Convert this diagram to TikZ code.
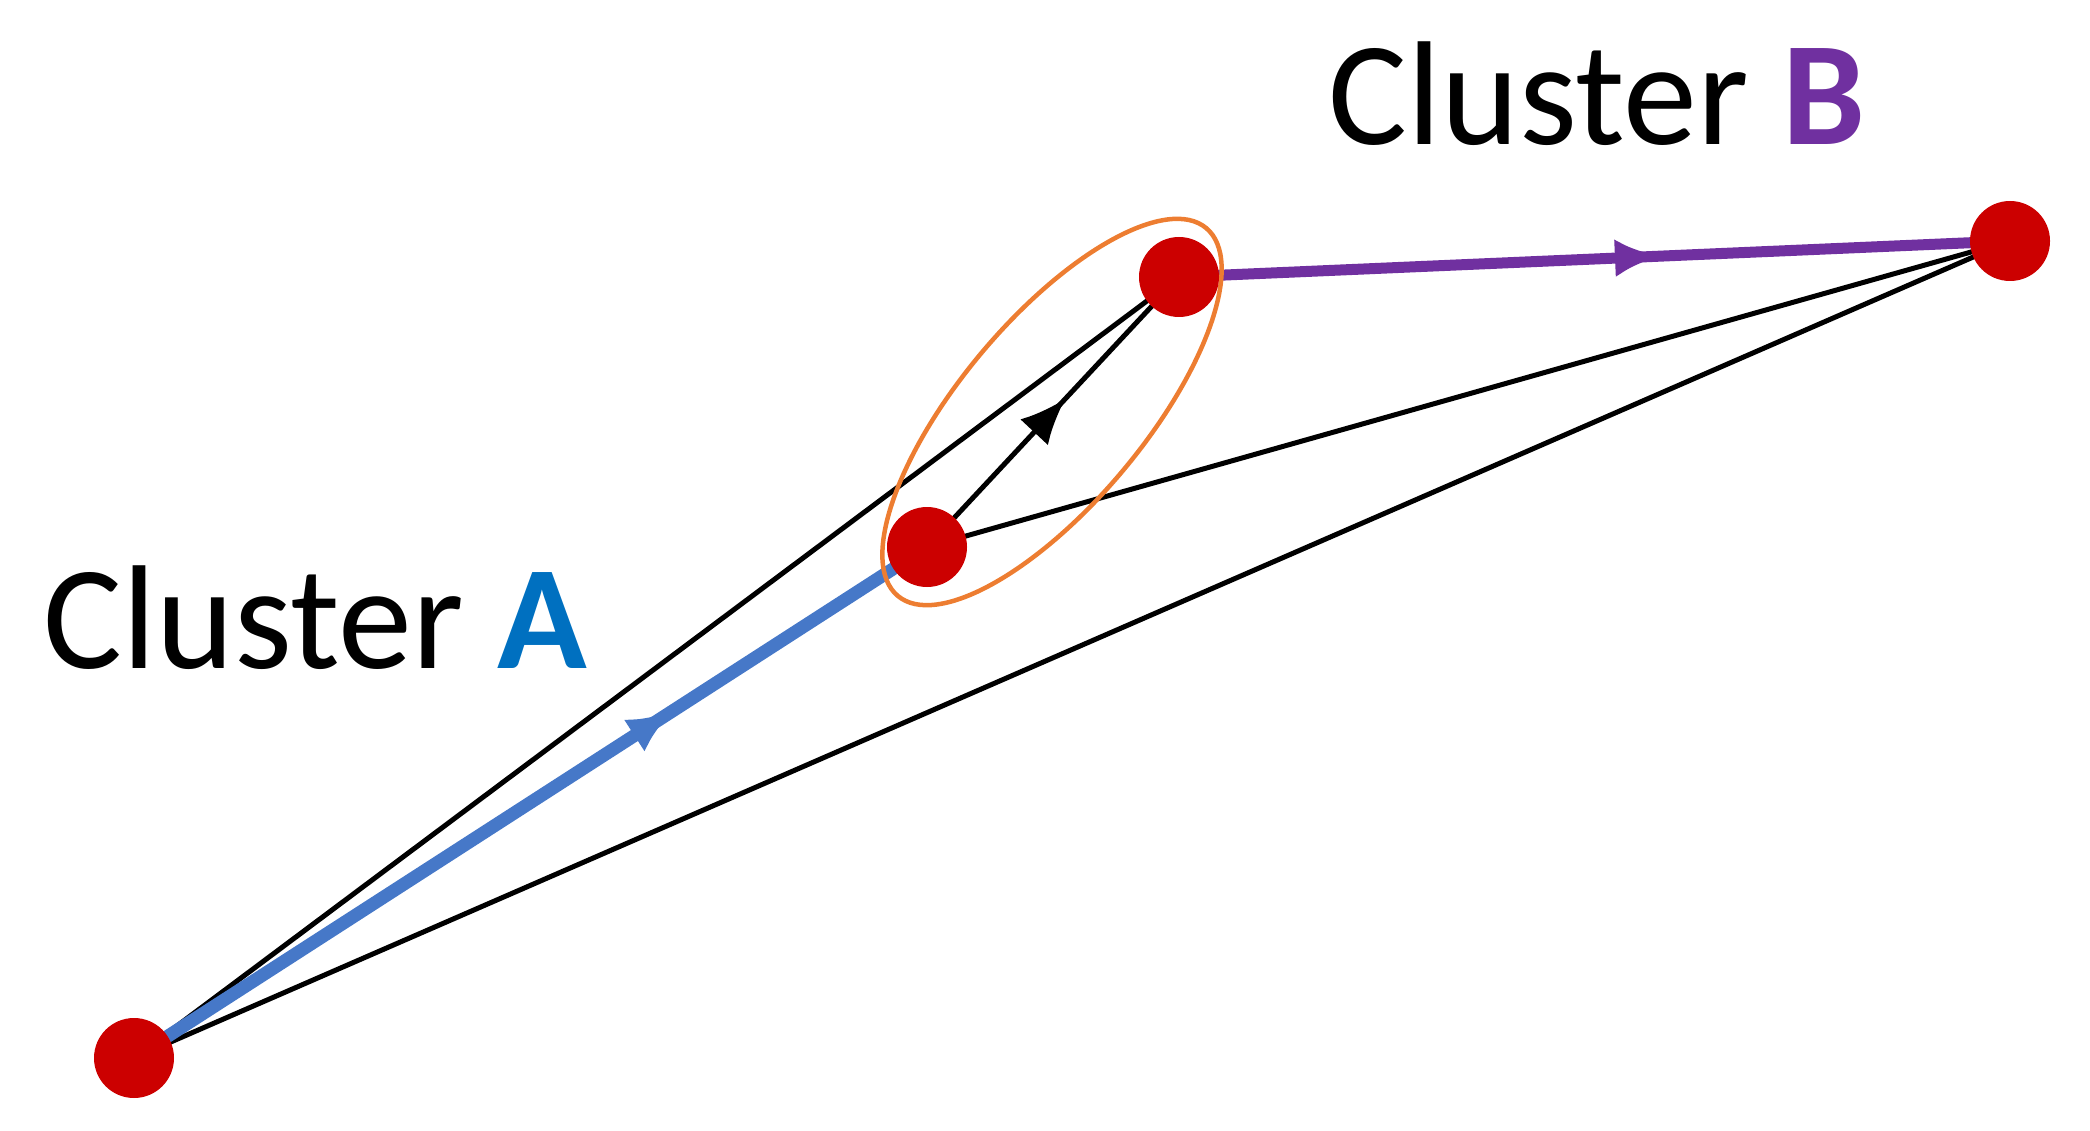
\documentclass[tikz,border=0pt]{standalone}
\usepackage{fontspec}
\setmainfont{Carlito}
\usetikzlibrary{decorations.markings,arrows.meta}
\definecolor{dotred}{RGB}{204,0,0}
\definecolor{blueA}{RGB}{70,120,200}
\definecolor{blueT}{RGB}{0,112,192}
\definecolor{purpB}{RGB}{112,48,160}
\definecolor{orng}{RGB}{237,125,49}
\begin{document}
\begin{tikzpicture}[x=1pt,y=-1pt,
  dot/.style={circle,fill=dotred,inner sep=0pt,minimum size=80pt},
  thin/.style={black,line width=5pt},
  mid/.style={postaction={decorate},decoration={markings,mark=at position #1 with {\arrow{Latex[length=46pt,width=38pt]}}}},
  lab/.style={font=\fontsize{148}{160}\selectfont,anchor=base west}]
\useasboundingbox (0,0) rectangle (2090,1131);
\coordinate (p1) at (134,1058);
\coordinate (p2) at (927,547);
\coordinate (p3) at (1179,277);
\coordinate (p4) at (2010,241);
\draw[thin] (p1) -- (p3);
\draw[thin] (p1) -- (p4);
\draw[thin] (p2) -- (p4);
\draw[thin,mid=0.55] (p2) -- (p3);
\draw[blueA,line width=13pt,mid=0.68] (p1) -- (p2);
\draw[purpB,line width=11pt,mid=0.58] (p3) -- (p4);
\draw[orng,line width=4.5pt,rotate around={50:(1052,412)}] (1052,412) ellipse (240pt and 92pt);
\node[dot] (n1) at (p1) {};
\node[dot] (n2) at (p2) {};
\node[dot] (n3) at (p3) {};
\node[dot] (n4) at (p4) {};
\node[lab] (la) at (40,668) {Cluster \textbf{\textcolor{blueT}{A}}};
\node[lab] (lb) at (1325,145) {Cluster \textbf{\textcolor{purpB}{B}}};
\end{tikzpicture}
\end{document}
